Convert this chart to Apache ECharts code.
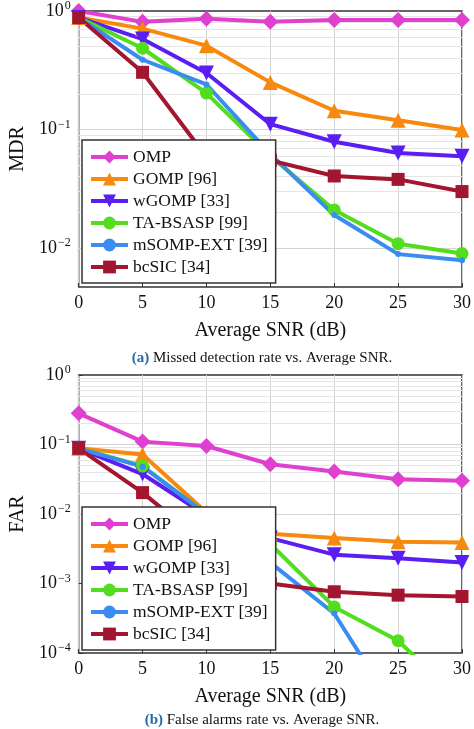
<!DOCTYPE html>
<html>
<head>
<meta charset="utf-8">
<script src="https://cdn.jsdelivr.net/npm/echarts@6/dist/echarts.min.js"></script>
<style>
html, body { margin: 0; padding: 0; background: #fff; }
#chart { width: 474px; height: 729px; }
</style>
</head>
<body>
<div id="chart"></div>
<script>
// x values (dB)
const snr = [0, 5, 10, 15, 20, 25, 30];
const names = ['OMP', 'GOMP [96]', 'wGOMP [33]', 'TA-BSASP [99]', 'mSOMP-EXT [39]', 'bcSIC [34]'];

// (a) missed detection rate
const mdrOmp   = [1.0, 0.81, 0.86, 0.81, 0.84, 0.84, 0.84];
const mdrGomp  = [0.88, 0.71, 0.51, 0.25, 0.144, 0.12, 0.099];
const mdrWgomp = [0.88, 0.58, 0.30, 0.111, 0.079, 0.0635, 0.0596];
const mdrTa    = [0.88, 0.485, 0.203, 0.06, 0.021, 0.0109, 0.009];
const mdrMsomp = [0.88, 0.388, 0.24, 0.062, 0.019, 0.0089, 0.0079];
const mdrBcsic = [0.88, 0.304, 0.059, 0.055, 0.0406, 0.038, 0.030];
const mdrTicks = [0.01, 0.1, 1];

// (b) false alarm rate
const farOmp   = [0.281, 0.11, 0.095, 0.052, 0.041, 0.0316, 0.030];
const farGomp  = [0.088, 0.072, 0.0105, 0.0052, 0.0045, 0.004, 0.0039];
const farWgomp = [0.088, 0.0376, 0.0095, 0.0045, 0.0026, 0.0023, 0.002];
const farTa    = [0.088, 0.049, 0.01, 0.0037, 0.00046, 0.00015, 0.00002];
const farMsomp = [0.088, 0.048, 0.01, 0.002, 0.00037, 0.000013, 0.000004];
const farBcsic = [0.088, 0.0203, 0.0036, 0.001, 0.00076, 0.00068, 0.00065];
const farTicks = [0.0001, 0.001, 0.01, 0.1, 1];

const font = 'Liberation Serif';
const colors = ['#E040D0', '#F7890F', '#5A1EF2', '#52DD1E', '#3A8CF0', '#A3162F'];
const symbols = ['diamond', 'triangle', 'triangle', 'circle', 'circle', 'rect'];
const symbolSizes = [16, 15, 15, 13, 6, 13];
const rotates = [0, 0, 180, 0, 0, 0];

function pairs(vals) {
    return vals.map((v, i) => [snr[i], v]);
}

// minor grid lines of a log axis: 2..9 x 10^k
function minorValues(min, max) {
    const out = [];
    for (let e = -6; e <= 0; e++) {
        for (let k = 2; k <= 9; k++) {
            const v = k * Math.pow(10, e);
            if (v > min && v < max) out.push(v);
        }
    }
    return out;
}

function makeSeries(sets, gi) {
    return sets.map((vals, i) => ({
        name: names[i],
        type: 'line',
        xAxisIndex: gi,
        yAxisIndex: gi,
        data: pairs(vals),
        symbol: symbols[i],
        symbolSize: symbolSizes[i],
        symbolRotate: rotates[i],
        showAllSymbol: true,
        clip: true,
        z: 2,
        lineStyle: { color: colors[i], width: 4 },
        itemStyle: { color: colors[i] }
    }));
}

// horizontal grid lines (decades and minor ones) on a log axis
function gridLines(gi, min, max, ticks) {
    const major = ticks.filter(v => v > min && v < max).map(v => ({ yAxis: v, lineStyle: { color: '#d4d4d4' } }));
    const minor = minorValues(min, max).map(v => ({ yAxis: v }));
    return {
        type: 'line',
        xAxisIndex: gi,
        yAxisIndex: gi,
        data: [],
        silent: true,
        z: 1,
        markLine: {
            silent: true,
            z: 1,
            animation: false,
            symbol: ['none', 'none'],
            label: { show: false },
            lineStyle: { color: '#e5e5e5', width: 1, type: 'solid' },
            data: minor.concat(major)
        }
    };
}

const supers = { '-1': '−1', '-2': '−2', '-3': '−3', '-4': '−4', '0': '0' };
function logLabel(v) {
    const e = Math.log10(v);
    const r = Math.round(e);
    if (Math.abs(e - r) > 0.01) return '';
    return '{b|10}{s|' + supers[String(r)] + '}';
}

function xAxis(gi) {
    return {
        type: 'value', gridIndex: gi, min: 0, max: 30, interval: 5,
        name: 'Average SNR (dB)', nameLocation: 'middle', nameGap: 34,
        nameTextStyle: { fontFamily: font, fontSize: 20, color: '#111' },
        axisLine: { show: false },
        axisTick: { inside: true, length: 4, lineStyle: { color: '#333' } },
        axisLabel: { fontFamily: font, fontSize: 18, color: '#111', margin: 7 },
        splitLine: { show: true, lineStyle: { color: '#d4d4d4', width: 1 } }
    };
}

function yAxis(gi, name, min, max, ticks) {
    return {
        type: 'log', logBase: 10, gridIndex: gi, min: min, max: max,
        name: name, nameLocation: 'middle', nameGap: 50,
        nameTextStyle: { fontFamily: font, fontSize: 20, color: '#111' },
        axisLine: { show: false },
        axisTick: { inside: true, length: 4, customValues: ticks, lineStyle: { color: '#333' } },
        axisLabel: {
            customValues: ticks,
            formatter: logLabel,
            margin: 8,
            rich: {
                b: { fontFamily: font, fontSize: 18, color: '#111', lineHeight: 22 },
                s: { fontFamily: font, fontSize: 12, color: '#111', verticalAlign: 'top', lineHeight: 12, padding: [0, 0, 0, 1] }
            }
        },
        splitLine: { show: false }
    };
}

function legend(top) {
    return {
        orient: 'vertical', left: 82, top: top, z: 10,
        padding: [8, 8, 7, 7], itemGap: 4, itemWidth: 37, itemHeight: 16,
        backgroundColor: '#fff', borderColor: '#333', borderWidth: 1.5, borderRadius: 0,
        lineStyle: { width: 4 },
        textStyle: { fontFamily: font, fontSize: 17.5, lineHeight: 18, color: '#111' },
        data: names
    };
}

function caption(tag, text, top) {
    return {
        text: '{a|' + tag + '} ' + text,
        left: 257, top: top, textAlign: 'center',
        textStyle: {
            fontFamily: font, fontSize: 15, fontWeight: 'normal', color: '#111',
            rich: { a: { fontFamily: font, fontSize: 15, fontWeight: 'bold', color: '#2a67a8' } }
        }
    };
}

const chart = echarts.init(document.getElementById('chart'), null, { renderer: 'canvas' });
chart.setOption({
    animation: false,
    backgroundColor: '#fff',
    title: [
        caption('(a)', 'Missed detection rate vs. Average SNR.', 346),
        caption('(b)', 'False alarms rate vs. Average SNR.', 708)
    ],
    grid: [
        { left: 75, top: 8, width: 390, height: 279, show: true, borderColor: '#333', borderWidth: 1.5, backgroundColor: 'transparent' },
        { left: 75, top: 375, width: 390, height: 278, show: true, borderColor: '#333', borderWidth: 1.5, backgroundColor: 'transparent' }
    ],
    legend: [legend(140), legend(507)],
    xAxis: [xAxis(0), xAxis(1)],
    yAxis: [yAxis(0, 'MDR', 0.0047, 1, mdrTicks), yAxis(1, 'FAR', 0.0001, 1, farTicks)],
    series: [
        gridLines(0, 0.0047, 1, mdrTicks),
        gridLines(1, 0.0001, 1, farTicks),
        ...makeSeries([mdrOmp, mdrGomp, mdrWgomp, mdrTa, mdrMsomp, mdrBcsic], 0),
        ...makeSeries([farOmp, farGomp, farWgomp, farTa, farMsomp, farBcsic], 1)
    ]
});
</script>
</body>
</html>
